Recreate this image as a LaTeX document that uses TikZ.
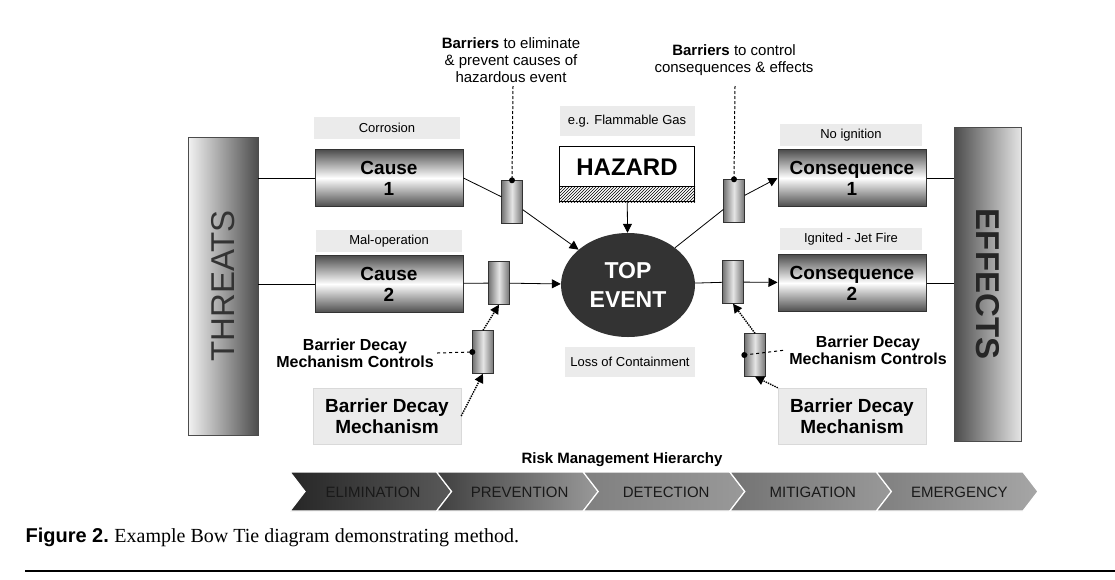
\documentclass[tikz,border=0pt]{standalone}
\usepackage{fontspec}
\setmainfont{Liberation Sans}
\newfontfamily\capserif{Liberation Serif}
\usetikzlibrary{patterns,arrows.meta,shapes.geometric}
\tikzset{
  lbl/.style={fill=black!8,minimum width=146pt,minimum height=22pt,font=\fontsize{13}{14}\selectfont},
  cause/.style={draw=black!80,line width=1pt,top color=black!70,bottom color=black!70,middle color=white,
    minimum width=148pt,minimum height=57pt,align=center,font=\bfseries\fontsize{19}{21}\selectfont},
  bar/.style={draw=black!80,left color=black!55,right color=black!55,middle color=black!10,
    minimum width=21pt,minimum height=43pt,inner sep=0pt},
  decay/.style={fill=black!8,draw=black!15,minimum width=148pt,minimum height=56pt,align=center,
    font=\bfseries\fontsize{19}{21}\selectfont},
  ctl/.style={align=center,font=\bfseries\fontsize{16}{17}\selectfont},
  arr/.style={-{Triangle[length=9pt,width=9pt]},line width=0.8pt},
  dots/.style={densely dotted,line width=1.4pt,-{Triangle[length=9pt,width=9pt]}},
}
\begin{document}
\begin{tikzpicture}[x=1pt,y=-1pt]
    \useasboundingbox (0,0) rectangle (1115,579);
    % side columns
    \node [draw=black!70,left color=black!5,right color=black!70,minimum width=70pt,minimum height=298pt,inner sep=0pt] (threats) at (223,286) {};
    \node [rotate=90,font=\fontsize{33}{36}\selectfont,text=black!80] at (threats) {THREATS};
    \node [draw=black!70,left color=black!70,right color=black!10,minimum width=67pt,minimum height=314pt,inner sep=0pt] (effects) at (988,284) {};
    \node [rotate=-90,font=\bfseries\fontsize{33}{36}\selectfont,text=black!85] at (effects) {EFFECTS};

    % causes
    \node [lbl] (corr) at (387,128) {Corrosion};
    \node [cause] (c1) at (389,178) {Cause\\1};
    \node [lbl] (malop) at (389,241) {Mal-operation};
    \node [cause] (c2) at (389,284) {Cause\\2};

    % consequences
    \node [lbl,minimum width=142pt] (noign) at (851,135) {No ignition};
    \node [cause] (q1) at (852,178) {Consequence\\1};
    \node [lbl,minimum width=142pt] (jet) at (851,239) {Ignited - Jet Fire};
    \node [cause] (q2) at (852,283) {Consequence\\2};

    % hazard and top event
    \node [lbl,minimum width=135pt,minimum height=30pt] (gas) at (627,121) {e.g. Flammable Gas};
    \node [draw,line width=1pt,minimum width=135pt,minimum height=55pt,inner sep=0pt] (haz) at (627,174) {};
    \fill [pattern=north east lines] (haz.south west) rectangle ([yshift=16pt]haz.south east);
    \draw [line width=1pt] ([yshift=16pt]haz.south west) -- ([yshift=16pt]haz.south east);
    \node [font=\bfseries\fontsize{24}{26}\selectfont] at ([yshift=7pt]haz.center) {HAZARD};
    \node [ellipse,fill=black!80,minimum width=134pt,minimum height=104pt,inner sep=0pt,align=center,
        text=white,font=\bfseries\fontsize{23}{29}\selectfont] (top) at (628,285) {TOP\\EVENT};
    \node [lbl,minimum width=130pt,minimum height=30pt] (loc) at (630,362) {Loss of Containment};

    % barriers
    \node [bar] (b1) at (512,202) {};
    \node [bar] (b2) at (499,283) {};
    \node [bar] (b3) at (734,201) {};
    \node [bar] (b4) at (733,282) {};
    \node [bar] (d1) at (483,352) {};
    \node [bar] (d2) at (755,355) {};

    % barrier decay
    \node [decay] (m1) at (387,416) {Barrier Decay\\Mechanism};
    \node [decay] (m2) at (852,416) {Barrier Decay\\Mechanism};
    \node [ctl] (k1) at (355,353) {Barrier Decay\\Mechanism Controls};
    \node [ctl] (k2) at (868,350) {Barrier Decay\\Mechanism Controls};

    % top notes
    \node [align=center,font=\fontsize{15}{17}\selectfont] (n1) at (511,60) {\textbf{Barriers} to eliminate\\\& prevent causes of\\hazardous event};
    \node [align=center,font=\fontsize{15}{17}\selectfont] (n2) at (734,60) {\textbf{Barriers} to control\\consequences \& effects};
    \coordinate (p1) at (513,86);
    \coordinate (p2) at (735,86);

    % connectors
    \draw [line width=0.8pt] (threats.east |- c1) -- (c1);
    \draw [line width=0.8pt] (threats.east |- c2) -- (c2);
    \draw [line width=0.8pt] (c1.east) -- (b1);
    \draw [arr] (b1) -- (top);
    \draw [line width=0.8pt] (c2) -- (b2);
    \draw [arr] (b2) -- (top);
    \draw [arr] (haz) -- (top);
    \draw [line width=0.8pt] (top) -- (b3);
    \draw [arr] (b3) -- (q1.west);
    \draw [line width=0.8pt] (top) -- (b4);
    \draw [arr] (b4) -- (q2);
    \draw [line width=0.8pt] (q1) -- (effects.west |- q1);
    \draw [line width=0.8pt] (q2) -- (effects.west |- q2);
    \draw [densely dashed,line width=1pt] (p1) -- (b1.north);
    \draw [densely dashed,line width=1pt] (p2) -- (b3.north);
    \fill (b1.north) circle (3pt) (b3.north) circle (3pt);
    \draw [dashed,line width=1pt] (k1.east) -- (d1.west);
    \draw [dashed,line width=1pt] (d2.west) -- (k2.west);
    \fill (d1.west) circle (3pt) (d2.west) circle (3pt);
    \draw [dots] (m1.east) -- (d1.south);
    \draw [dots] (d1.north) -- (b2.south);
    \draw [dots] (m2.north west) -- (d2.south);
    \draw [dots] (d2.north) -- (b4.south);

    % hierarchy
    \node [font=\bfseries\fontsize{15}{17}\selectfont] (rmh) at (622,460) {Risk Management Hierarchy};
    \foreach \i/\txt/\ca/\cb in {0/ELIMINATION/85/65,1/PREVENTION/75/40,2/DETECTION/50/40,3/MITIGATION/55/40,4/EMERGENCY/50/35} {
        \pgfmathsetmacro{\xa}{290+146.6*\i}
        \shade [left color=black!\ca,right color=black!\cb,draw=white,line width=1.2pt]
            (\xa,472) -- (\xa+146.6,472) -- (\xa+161.6,491.5) -- (\xa+146.6,511) -- (\xa,511) -- (\xa+15,491.5) -- cycle;
        \node [font=\fontsize{15}{17}\selectfont,text=black!90] at (\xa+83,492) {\txt};
    }

    % caption
    \node [anchor=west,font=\fontsize{20}{22}\selectfont] (cap) at (22,537) {\textbf{Figure 2.}\ {\capserif Example Bow Tie diagram demonstrating method.}};
    \draw [line width=2pt] (25,571) -- (1115,571);
\end{tikzpicture}
\end{document}
